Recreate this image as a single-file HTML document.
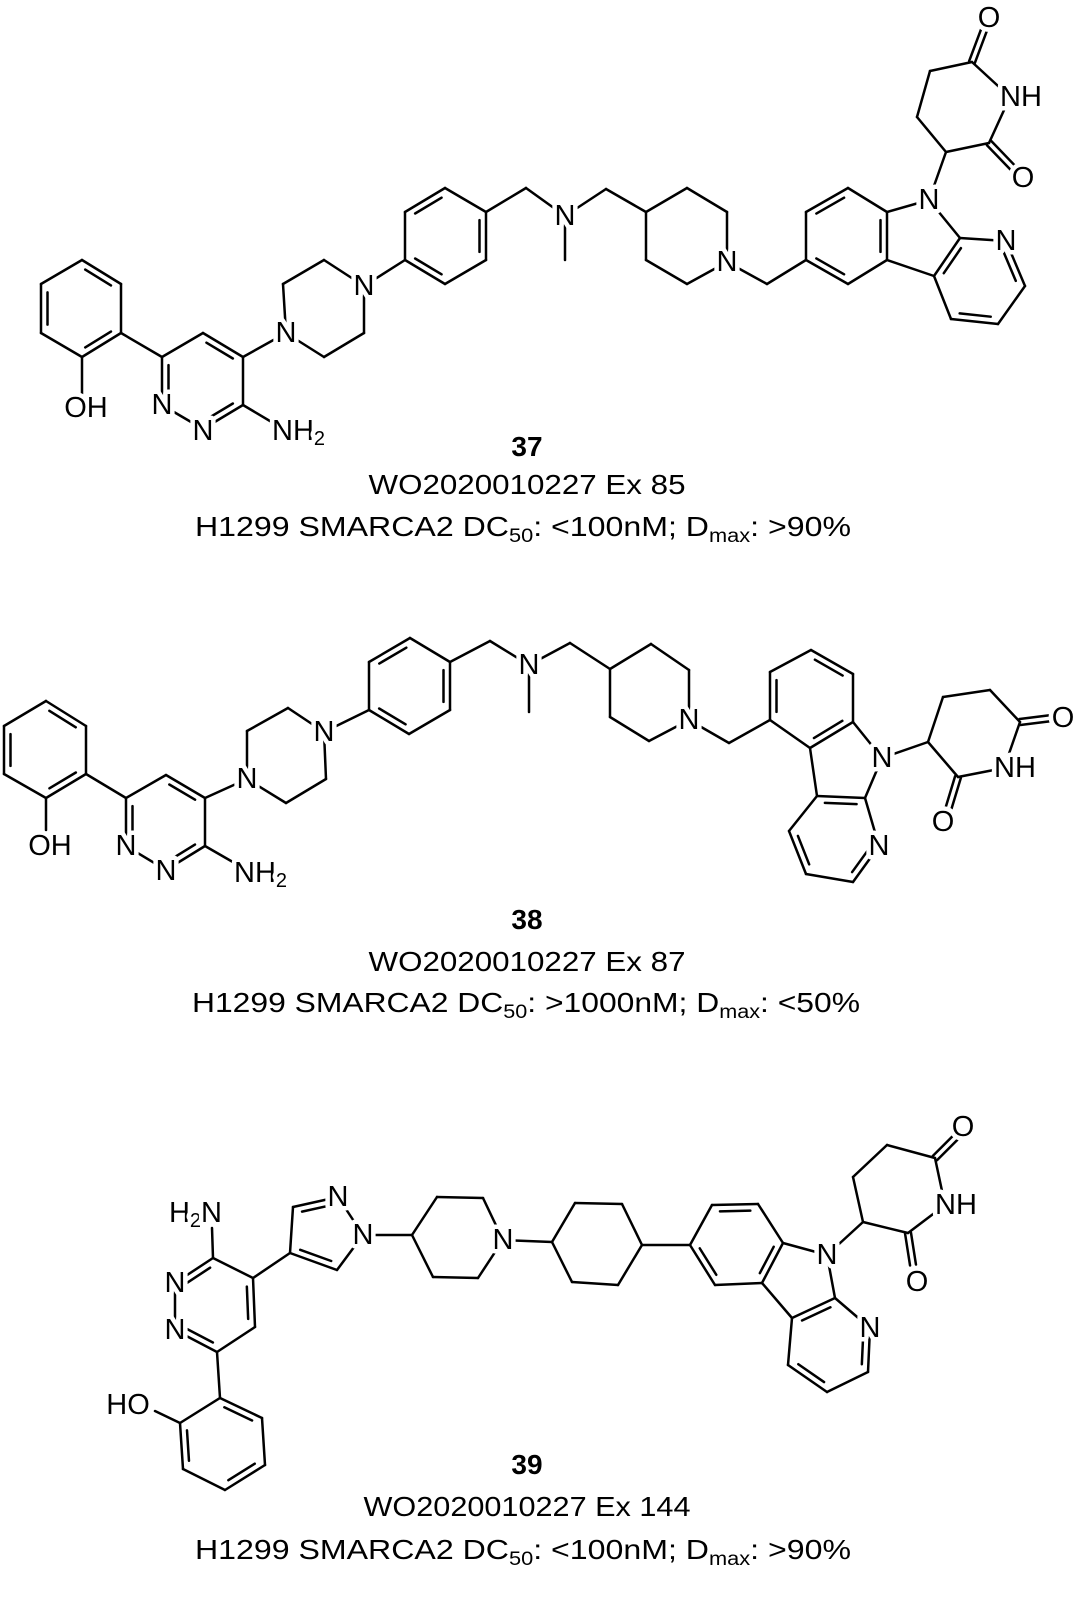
<!DOCTYPE html>
<html><head><meta charset="utf-8"><style>
html,body{margin:0;padding:0;background:#fff}
svg{display:block}
.l text{font-family:"Liberation Sans",Arial,sans-serif;font-size:29px;fill:#000;text-anchor:middle;dominant-baseline:central;paint-order:stroke;stroke:#fff;stroke-width:9px;stroke-linejoin:round}
.c{font-family:"Liberation Sans",Arial,sans-serif;font-size:28px;fill:#000;text-anchor:middle}
</style></head><body>
<svg id="s" width="1080" height="1610" viewBox="0 0 1080 1610" xmlns="http://www.w3.org/2000/svg">
<g id="b" stroke="#000" stroke-width="2.5" stroke-linecap="round" fill="none"></g>
<g class="l">
<!-- 37 -->
<text x="86" y="408">OH</text><text x="162" y="405">N</text><text x="203" y="431">N</text>
<text x="272" y="431" style="text-anchor:start">NH<tspan font-size="20" dy="8">2</tspan></text>
<text x="286" y="333">N</text><text x="364" y="286">N</text><text x="565" y="216">N</text>
<text x="727" y="262">N</text><text x="929" y="200">N</text><text x="1006" y="241">N</text>
<text x="1021" y="97">NH</text><text x="1023" y="178">O</text><text x="989" y="18">O</text>
<!-- 38 -->
<text x="50" y="846">OH</text><text x="126" y="846">N</text><text x="166" y="871">N</text>
<text x="234" y="873" style="text-anchor:start">NH<tspan font-size="20" dy="8">2</tspan></text>
<text x="247" y="779">N</text><text x="324" y="732">N</text><text x="529" y="665">N</text>
<text x="689" y="720">N</text><text x="882" y="758">N</text><text x="879" y="846">N</text>
<text x="1015" y="768">NH</text><text x="943" y="822">O</text><text x="1063" y="718">O</text>
<!-- 39 -->
<text x="222" y="1213" style="text-anchor:end">H<tspan font-size="20" dy="8">2</tspan><tspan dy="-8">N</tspan></text>
<text x="175" y="1283">N</text><text x="175" y="1330">N</text><text x="338" y="1197">N</text>
<text x="363" y="1235">N</text><text x="503" y="1240">N</text><text x="827" y="1255">N</text>
<text x="870" y="1328">N</text><text x="956" y="1205">NH</text><text x="917" y="1282">O</text>
<text x="963" y="1127">O</text><text x="128" y="1405">HO</text>
</g>
<g>
<text class="c" x="527" y="456" font-weight="bold">37</text>
<text class="c" x="527" y="494" textLength="317" lengthAdjust="spacingAndGlyphs">WO2020010227 Ex 85</text>
<text class="c" x="523" y="536" textLength="656" lengthAdjust="spacingAndGlyphs">H1299 SMARCA2 DC<tspan font-size="19" dy="6">50</tspan><tspan dy="-6">: &lt;100nM; D</tspan><tspan font-size="19" dy="6">max</tspan><tspan dy="-6">: &gt;90%</tspan></text>
<text class="c" x="527" y="929" font-weight="bold">38</text>
<text class="c" x="527" y="971" textLength="317" lengthAdjust="spacingAndGlyphs">WO2020010227 Ex 87</text>
<text class="c" x="526" y="1012" textLength="668" lengthAdjust="spacingAndGlyphs">H1299 SMARCA2 DC<tspan font-size="19" dy="6">50</tspan><tspan dy="-6">: &gt;1000nM; D</tspan><tspan font-size="19" dy="6">max</tspan><tspan dy="-6">: &lt;50%</tspan></text>
<text class="c" x="527" y="1474" font-weight="bold">39</text>
<text class="c" x="527" y="1516" textLength="327" lengthAdjust="spacingAndGlyphs">WO2020010227 Ex 144</text>
<text class="c" x="523" y="1559" textLength="656" lengthAdjust="spacingAndGlyphs">H1299 SMARCA2 DC<tspan font-size="19" dy="6">50</tspan><tspan dy="-6">: &lt;100nM; D</tspan><tspan font-size="19" dy="6">max</tspan><tspan dy="-6">: &gt;90%</tspan></text>
</g>
</svg>
<script>
var g=document.getElementById('b'),NS='http://www.w3.org/2000/svg';
function L(a,b,c,d){var e=document.createElementNS(NS,'line');e.setAttribute('x1',a);e.setAttribute('y1',b);e.setAttribute('x2',c);e.setAttribute('y2',d);g.insertBefore(e,g.firstChild);}
function D(a,b,c,d,cx,cy){L(a,b,c,d);var mx=(a+c)/2,my=(b+d)/2,dx=c-a,dy=d-b,len=Math.hypot(dx,dy),nx=-dy/len,ny=dx/len;
 if(nx*(cx-mx)+ny*(cy-my)<0){nx=-nx;ny=-ny;}var o=6.5,s=0.17;
 L(a+dx*s+nx*o,b+dy*s+ny*o,c-dx*s+nx*o,d-dy*s+ny*o);}
function E(a,b,c,d){var dx=c-a,dy=d-b,len=Math.hypot(dx,dy),nx=-dy/len*3,ny=dx/len*3;L(a+nx,b+ny,c+nx,d+ny);L(a-nx,b-ny,c-nx,d-ny);}
function R(p,dbl){var n=p.length,cx=0,cy=0;p.forEach(function(q){cx+=q[0];cy+=q[1];});cx/=n;cy/=n;
 for(var i=0;i<n;i++){var A=p[i],B=p[(i+1)%n];if(dbl.indexOf(i)>=0)D(A[0],A[1],B[0],B[1],cx,cy);else L(A[0],A[1],B[0],B[1]);}}
function P(pts){for(var i=0;i<pts.length-1;i++)L(pts[i][0],pts[i][1],pts[i+1][0],pts[i+1][1]);}
// ===== 37 =====
R([[82,260],[121,284],[121,333],[82,357],[41,333],[41,284]],[0,2,4]);
L(82,357,82,394);L(121,333,162,357);
R([[162,357],[203,333],[243,357],[243,405],[203,429],[162,405]],[1,3,5]);
L(243,405,280,427);L(243,357,286,333);
R([[286,333],[324,357],[364,333],[364,286],[324,260],[283,284]],[]);
L(364,286,405,260);
R([[405,260],[405,212],[445,188],[486,212],[486,260],[445,284]],[1,3,5]);
P([[486,212],[526,188],[565,216]]);L(565,216,565,260);P([[565,216],[606,189],[646,212]]);
R([[646,212],[687,188],[727,212],[727,262],[687,284],[646,260]],[]);
P([[727,262],[767,284],[806,260]]);
R([[806,260],[806,212],[848,188],[887,212],[887,260],[848,284]],[1,3,5]);
L(887,212,929,200);L(929,200,960,238);L(934,276,887,260);
R([[960,238],[1006,241],[1025,286],[998,324],[951,319],[934,276]],[1,3,5]);
L(929,200,946,152);
R([[946,152],[989,143],[1010,97],[972,62],[930,71],[917,117]],[]);
E(989,143,1015,170);E(972,62,984,30);
// ===== 38 =====
R([[46,701],[86,726],[86,774],[46,798],[4,774],[4,726]],[0,2,4]);
L(46,798,46,830);L(86,774,126,798);
R([[126,798],[166,775],[205,798],[205,846],[166,870],[126,846]],[1,3,5]);
L(205,846,238,865);L(205,798,247,779);
R([[247,779],[286,803],[326,779],[324,732],[288,708],[247,731]],[]);
L(324,732,369,710);
R([[369,710],[369,662],[410,638],[450,662],[450,710],[409,734]],[1,3,5]);
P([[450,662],[490,641],[529,665]]);L(529,665,529,712);P([[529,665],[570,643],[610,669]]);
R([[610,669],[651,644],[689,670],[689,720],[649,741],[610,717]],[]);
P([[689,720],[729,743],[770,720]]);
R([[770,720],[770,672],[811,650],[853,674],[853,722],[810,748]],[0,2,4]);
L(853,722,882,758);L(882,758,865,798);L(817,796,810,748);
R([[865,798],[879,846],[853,882],[806,874],[789,831],[817,796]],[1,3,5]);
L(882,758,928,742);
R([[928,742],[958,777],[1004,768],[1020,722],[990,690],[943,697]],[]);
E(958,777,948,810);E(1020,722,1052,718);
// ===== 39 =====
R([[213,1258],[175,1283],[175,1330],[217,1352],[255,1327],[253,1278]],[0,2,4]);
L(212,1228,213,1258);L(253,1278,290,1253);
R([[290,1253],[293,1207],[338,1197],[363,1235],[337,1270]],[1,4]);
L(363,1235,412,1235);
R([[412,1235],[437,1197],[483,1198],[503,1240],[478,1278],[433,1277]],[]);
L(503,1240,552,1242);
R([[552,1242],[575,1203],[622,1204],[642,1245],[618,1285],[572,1282]],[]);
L(642,1245,690,1245);
R([[690,1245],[712,1205],[758,1204],[783,1243],[762,1283],[715,1285]],[1,3,5]);
L(783,1243,827,1255);L(827,1255,835,1298);L(792,1318,762,1283);
R([[835,1298],[870,1328],[868,1372],[827,1392],[788,1365],[792,1318]],[1,3,5]);
L(827,1255,863,1222);
R([[863,1222],[908,1233],[945,1205],[935,1158],[887,1145],[853,1177]],[]);
E(908,1233,913,1265);E(935,1158,955,1138);
L(217,1352,220,1398);
R([[220,1398],[262,1418],[265,1465],[225,1490],[183,1469],[180,1423]],[0,2,4]);
L(155,1411,180,1423);
</script>
</body></html>
